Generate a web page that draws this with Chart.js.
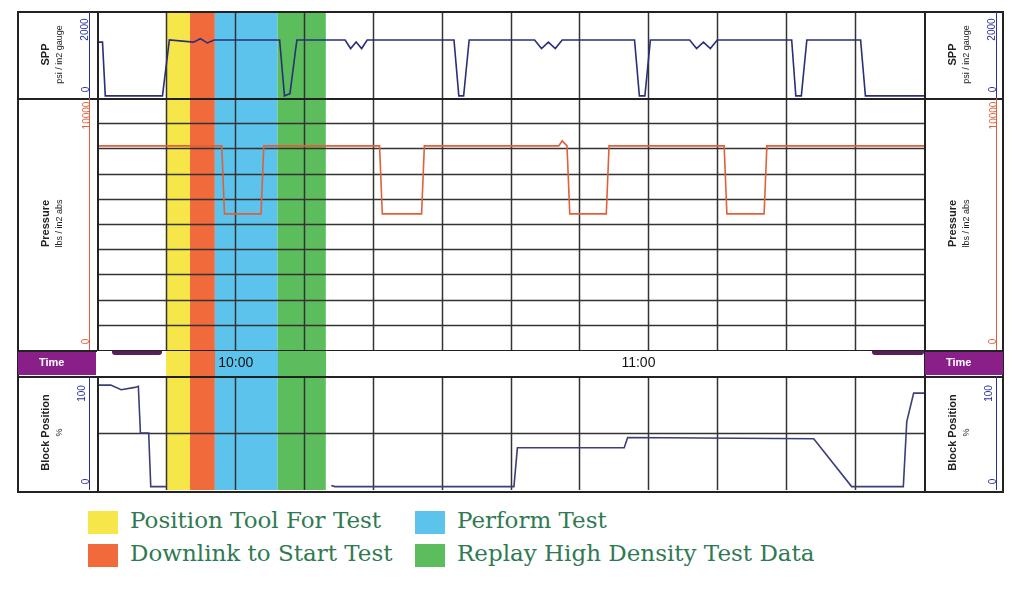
<!DOCTYPE html>
<html><head><meta charset="utf-8">
<script src="https://cdn.jsdelivr.net/npm/chart.js@4"></script>
<style>
body{margin:0;background:#fff;width:1015px;height:590px;position:relative;overflow:hidden;font-family:"Liberation Sans",Arial,sans-serif}
.box{position:absolute}
.cv{position:absolute}
.rot{position:absolute;transform:rotate(-90deg);transform-origin:center;white-space:nowrap;text-align:center;font-weight:bold;font-size:11px;color:#222}
.tick{position:absolute;transform:rotate(-90deg);font-size:10px;white-space:nowrap}
.leg{position:absolute;font-family:"DejaVu Serif","Liberation Serif",serif;font-size:23px;color:#2f7a52}
.sw{position:absolute;width:30px;height:23px}
</style></head><body>
<script>
// x units: one grid column per unit, 0..12
const sppX = [0,0.08,0.12,0.95,1.05,1.4,1.5,1.6,1.7,2.65,2.72,2.8,2.9,3.6,3.68,3.76,3.84,3.92,5.18,5.25,5.32,5.4,6.35,6.45,6.55,6.65,6.75,7.8,7.87,7.95,8.03,8.6,8.7,8.8,8.9,9.0,10.08,10.14,10.22,10.3,11.08,11.15,12];
const sppY = [1300,1300,50,50,1350,1300,1380,1280,1350,1350,50,100,1350,1350,1150,1300,1150,1350,1350,50,50,1350,1350,1150,1300,1150,1350,1350,50,50,1350,1350,1150,1300,1150,1350,1350,50,50,1350,1350,50,50];
const presX = [0,1.81,1.85,2.38,2.42,4.1,4.14,4.71,4.75,6.7,6.75,6.82,6.86,7.39,7.43,9.1,9.14,9.68,9.72,12];
const presY = [8100,8100,5400,5400,8100,8100,5400,5400,8100,8100,8300,8100,5400,5400,8100,8100,5400,5400,8100,8100];
const blockX = [0,0.2,0.35,0.55,0.6,0.63,0.75,0.78,1.0,2,3.4,3.45,6.05,6.1,7.65,7.7,10.4,10.95,11.7,11.75,11.85,12];
const blockY = [92,92,88,90,91,50,50,3,3,null,4,3,3,37,37,46,45,3,3,60,85,85];
const bands = [[1.0,1.35,'#f7e64a'],[1.35,1.71,'#f06a3c'],[1.71,2.62,'#5cc3ec'],[2.62,3.32,'#5cbd5c']];
const legendItems = [['Position Tool For Test','#f7e64a'],['Downlink to Start Test','#f06a3c'],['Perform Test','#5cc3ec'],['Replay High Density Test Data','#5cbd5c']];
const timeLabels = [['10:00',2.05],['11:00',7.9]];

const L = 97, R = 924, W = R - L;
function div(cls, css, txt){const d=document.createElement('div');d.className=cls;Object.assign(d.style,css);if(txt!==undefined)d.textContent=txt;document.body.appendChild(d);return d;}

const bandPlugin = {id:'bands', beforeDatasetsDraw(c){const {ctx,chartArea:a,scales:{x,y}}=c;ctx.save();
  bands.forEach(b=>{ctx.fillStyle=b[2];const x0=x.getPixelForValue(b[0]),x1=x.getPixelForValue(b[1]);ctx.fillRect(x0,a.top,x1-x0,a.bottom-a.top);});
  ctx.strokeStyle='#333';ctx.lineWidth=1.5;
  for(let i=1;i<12;i++){const p=Math.round(x.getPixelForValue(i))+0.5;ctx.beginPath();ctx.moveTo(p,a.top);ctx.lineTo(p,a.bottom);ctx.stroke();}
  y.ticks.forEach(t=>{if(t.value<=y.min||t.value>=y.max)return;const p=Math.round(y.getPixelForValue(t.value))+0.5;ctx.beginPath();ctx.moveTo(a.left,p);ctx.lineTo(a.right,p);ctx.stroke();});
  ctx.restore();}};

function panel(top,h,xs,ys,color,ymax,ystep){
  const cv=document.createElement('canvas');cv.className='cv';cv.style.left=L+'px';cv.style.top=top+'px';cv.style.width=W+'px';cv.style.height=h+'px';cv.width=W;cv.height=h;
  document.body.appendChild(cv);
  new Chart(cv,{type:'line',data:{datasets:[{data:xs.map((v,i)=>({x:v,y:ys[i]})),borderColor:color,borderWidth:1.6,pointRadius:0,tension:0,spanGaps:false}]},
    options:{responsive:false,animation:false,layout:{padding:0},plugins:{legend:{display:false},tooltip:{enabled:false}},
      scales:{x:{type:'linear',min:0,max:12,ticks:{display:false},grid:{display:false,drawTicks:false},border:{display:false}},
        y:{min:0,max:ymax,ticks:{display:false,stepSize:ystep},grid:{display:false,drawTicks:false},border:{display:false}}}},
    plugins:[bandPlugin]});
}
panel(12,86,sppX,sppY,'#2a2f7a',2000,2000);
panel(98,252,presX,presY,'#e0603c',10000,1000);
panel(376,114,blockX,blockY,'#3a3f7a',100,50);

// frame
const line='2px solid #222';
div('box',{left:'17px',top:'11px',width:'983px',height:'478px',border:line});
[97,924].forEach(x=>div('box',{left:x+'px',top:'11px',width:'0',height:'480px',borderLeft:line}));
[98,350,376].forEach(y=>div('box',{left:'17px',top:y+'px',width:'985px',height:'0',borderTop:line}));
// time strip
div('box',{left:'97px',top:'351px',width:'827px',height:'25px',background:'#fff'});
bands.forEach(b=>div('box',{left:(L+b[0]*W/12)+'px',top:'351px',width:((b[1]-b[0])*W/12)+'px',height:'25px',background:b[2]}));
[17,924].forEach(x=>{div('box',{left:(x+1)+'px',top:'352px',width:'78px',height:'23px',background:'#8a1f8a'});
  div('box',{left:(x+22)+'px',top:'356px',color:'#fff',fontSize:'11px',fontWeight:'bold'},'Time');});
div('box',{left:'112px',top:'351px',width:'50px',height:'4px',background:'#5a1e5a',borderRadius:'0 0 3px 3px'});
div('box',{left:'872px',top:'351px',width:'52px',height:'4px',background:'#5a1e5a',borderRadius:'0 0 3px 3px'});
timeLabels.forEach(t=>div('box',{left:(L+t[1]*W/12-20)+'px',top:'354px',fontSize:'14px',color:'#111'},t[0]));

// side labels
function side(x0){
  const specs=[[12,86,'SPP','psi / in2 gauge','#2a2f9a','2000','0'],[98,252,'Pressure','lbs / in2 abs','#e0603c','10000','0'],[376,114,'Block Position','%','#2a2f9a','100','0']];
  specs.forEach(s=>{const cy=s[0]+s[1]/2;
    const t=div('rot',{left:(x0+35-s[1]/2)+'px',top:(cy-14)+'px',width:s[1]+'px',lineHeight:'13px'});t.innerHTML=s[2]+'<br><span style="font-weight:normal;font-size:9px">'+s[3]+'</span>';
    div('tick',{left:(x0+56)+'px',top:(s[0]+12)+'px',color:s[4]},s[5]);
    div('tick',{left:(x0+66)+'px',top:(s[0]+s[1]-14)+'px',color:s[4]},s[6]);
    div('box',{left:(x0+72)+'px',top:s[0]+'px',width:'0',height:s[1]+'px',borderLeft:'1px solid '+s[4]});
  });
}
side(17);side(924);

// legend
legendItems.forEach((it,i)=>{const col=i<2?0:1,row=i%2;const x=col?415:88,y=511+row*33;
  div('sw',{left:x+'px',top:y+'px',background:it[1]});div('leg',{left:(x+42)+'px',top:(y-4)+'px'},it[0]);});
</script>
</body></html>
